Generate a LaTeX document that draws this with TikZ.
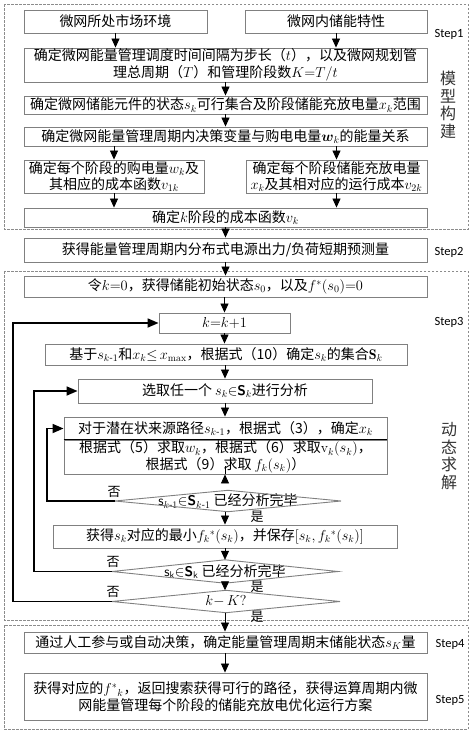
\documentclass[tikz,border=0pt]{standalone}
\usepackage{fontspec}
\usepackage{amsmath}
\newfontfamily\cjk{Noto Sans CJK SC}
\newfontfamily\stepfont{Carlito}
\usetikzlibrary{arrows.meta}
\newcommand{\bS}{\mbox{\sffamily\bfseries S}}
\newcommand{\ssf}{\mbox{\sffamily s}}
\begin{document}
\begin{tikzpicture}[x=1pt,y=-1pt,
  box/.style={draw=black!50, line width=0.9pt, fill=white, inner sep=0pt, align=center,
    font=\cjk\fontsize{14}{16.5}\selectfont},
  dtext/.style={inner sep=0pt, align=center, font=\cjk\fontsize{14}{16.5}\selectfont},
  dborder/.style={draw=black!50, line width=0.9pt},
  arr/.style={-{Triangle[length=9pt,width=8pt]}, line width=0.8pt},
  backloop/.style={line width=1.7pt, -{Triangle[length=11pt,width=9pt]}},
  outer/.style={draw=black!45, line width=0.6pt, dash pattern=on 2.5pt off 1.5pt},
  steplab/.style={font=\stepfont\fontsize{12.5}{14}\selectfont, inner sep=0pt},
  sidelab/.style={font=\cjk\fontsize{16}{17.5}\selectfont, align=center, inner sep=0pt, text=black!80},
  yesno/.style={font=\cjk\fontsize{13}{14}\selectfont, inner sep=0pt}
]
\useasboundingbox (0,0) rectangle (474,737);
\fill[white] (0,0) rectangle (474,737);

% outer dashed groups
\draw[outer] (4,4) rectangle (468,229);
\draw[outer] (4,271) rectangle (468,620);
\draw[outer] (4,625) rectangle (468,729);

% Step 1
\node[box, minimum width=183pt, minimum height=23pt] (a1) at (115.5,21.5) {微网所处市场环境};
\node[box, minimum width=182pt, minimum height=23pt] (a2) at (336,21.5) {微网内储能特性};
\node[box, minimum width=403pt, minimum height=34pt] (b) at (225.5,65)
  {确定微网能量管理调度时间间隔为步长（$t$），以及微网规划管\\理总周期（$T$）和管理阶段数$K{=}T/t$};
\node[box, minimum width=403pt, minimum height=18pt] (c) at (225.5,105)
  {确定微网储能元件的状态$s_k$可行集合及阶段储能充放电量$x_k$范围};
\node[box, minimum width=403pt, minimum height=19pt] (d) at (225.5,136.5)
  {确定微网能量管理周期内决策变量与购电电量$\boldsymbol{w}_k$的能量关系};
\node[box, minimum width=180pt, minimum height=33pt] (e1) at (114,176.5)
  {确定每个阶段的购电量$w_k$及\\其相应的成本函数$v_{1k}$};
\node[box, minimum width=181pt, minimum height=33pt] (e2) at (336.5,176.5)
  {确定每个阶段储能充放电量\\$x_k$及其相对应的运行成本$v_{2k}$};
\node[box, minimum width=403pt, minimum height=19pt] (f) at (225.5,217.5)
  {确定$k$阶段的成本函数$v_k$};

% Step 2
\node[box, minimum width=403pt, minimum height=24pt] (g) at (225.5,250)
  {获得能量管理周期内分布式电源出力/负荷短期预测量};

% Step 3
\node[box, minimum width=403pt, minimum height=21pt] (h) at (225.5,286.5)
  {令$k{=}0$，获得储能初始状态$s_0$，以及$f^{*}(s_0){=}0$};
\node[box, minimum width=131pt, minimum height=20pt] (i) at (224.5,323) {$k{=}k{+}1$};
\node[box, minimum width=362pt, minimum height=21pt] (j) at (226,354.5)
  {基于$s_{k\text{-}1}$和$x_k{\leq}\,x_{\max}$，根据式（10）确定$s_k$的集合$\mathbf{S}_k$};
\node[box, minimum width=294pt, minimum height=24pt] (l) at (225,391)
  {选取任一个 $s_k{\in}\bS_k$进行分析};
\node[box, minimum width=323pt, minimum height=23pt] (m1) at (225.5,428.5)
  {对于潜在状来源路径$s_{k\text{-}1}$，根据式（3），确定$x_k$};
\node[box, minimum width=323pt, minimum height=34pt] (m2) at (225.5,457)
  {根据式（5）求取$w_k$，根据式（6）求取$\mathrm{v}_k(s_k)$，\\根据式（9）求取 $f_k(s_k)$）};
\draw[black, line width=0.9pt] (m2.north west) -- (m2.north east);

\node[dtext, minimum width=226pt, minimum height=21pt] (q1) at (228,501)
  {$\ssf_{k\text{-}1}{\in}\bS_{k\text{-}1}$ 已经分析完毕};
\draw[dborder] (q1.west) -- (q1.north) -- (q1.east) -- (q1.south) -- cycle;

\node[box, minimum width=344pt, minimum height=23pt] (n) at (225,536.5)
  {获得$s_k$对应的最小$f_k{}^{*}(s_k)$，并保存$[s_k, f_k{}^{*}(s_k)]$};

\node[dtext, minimum width=226pt, minimum height=23pt] (q2) at (225,571.5)
  {$\ssf_{\mathsf{k}}{\in}\bS_{\mathsf{k}}$ 已经分析完毕};
\draw[dborder] (q2.west) -- (q2.north) -- (q2.east) -- (q2.south) -- cycle;

\node[dtext, minimum width=228pt, minimum height=22pt] (q3) at (226,601.5)
  {$k{-}\,K?$};
\draw[dborder] (q3.west) -- (q3.north) -- (q3.east) -- (q3.south) -- cycle;

% Step 4, 5
\node[box, minimum width=403pt, minimum height=21pt] (p) at (225.5,642.5)
  {通过人工参与或自动决策，确定能量管理周期末储能状态$s_K$量};
\node[box, minimum width=403pt, minimum height=47pt] (r) at (225.5,696.5)
  {获得对应的${f^{*}}_{k}$，返回搜索获得可行的路径，获得运算周期内微\\网能量管理每个阶段的储能充放电优化运行方案};

% forward arrows
\draw[arr] (a1.south) -- (a1.south |- b.north);
\draw[arr] (a2.south) -- (a2.south |- b.north);
\draw[arr] (b) -- (c);
\draw[arr] (c) -- (d);
\draw[arr] (e1.north |- d.south) -- (e1.north);
\draw[arr] (e2.north |- d.south) -- (e2.north);
\draw[arr] (e1.south) -- (e1.south |- f.north);
\draw[arr] (e2.south) -- (e2.south |- f.north);
\draw[arr] (f) -- (g);
\draw[arr] (g) -- (h);
\draw[arr] (h.south -| i.north) -- (i.north);
\draw[arr] (i.south) -- (i.south |- j.north);
\draw[arr] (j.south -| l.north) -- (l.north);
\draw[arr] (l.south) -- (l.south |- m1.north);
\draw[arr] (m2.south -| l.south) -- (m2.south -| l.south |- q1.north);
\draw[arr] (q1.south -| l.south) -- (l.south |- n.north);
\draw[arr] (n.south -| l.south) -- (l.south |- q2.north);
\draw[arr] (q2.south -| l.south) -- (l.south |- q3.north);
\draw[arr] (q3.south -| l.south) -- (l.south |- p.north);
\draw[arr] (p.south -| l.south) -- (l.south |- r.north);

% back loops
\coordinate (L1) at (47,0);
\coordinate (L2) at (34,0);
\coordinate (L3) at (13,0);
\draw[backloop] (q1.west) -- (q1.west -| L1) |- (m1.west);
\draw[backloop] (q2.west) -- (q2.west -| L2) |- (l.west);
\draw[backloop] (q3.west) -- (q3.west -| L3) |- (i.west);

% yes / no labels
\node[yesno] (no1) at (114,492) {否};
\node[yesno] (no2) at (113,562) {否};
\node[yesno] (no3) at (113,592) {否};
\node[yesno] (yes1) at (257,517) {是};
\node[yesno] (yes2) at (257,587) {是};
\node[yesno] (yes3) at (257,617) {是};

% side labels
\node[steplab] (s1) at (449,34) {Step1};
\node[steplab] (s2) at (449,252) {Step2};
\node[steplab] (s3) at (449,322) {Step3};
\node[steplab] (s4) at (450,644) {Step4};
\node[steplab] (s5) at (450,700) {Step5};
\node[sidelab] (t1) at (448,105) {模\\型\\构\\建};
\node[sidelab] (t2) at (449,456) {动\\态\\求\\解};
\end{tikzpicture}
\end{document}
